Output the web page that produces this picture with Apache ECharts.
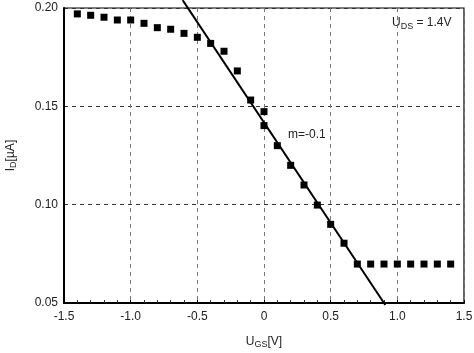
<!DOCTYPE html>
<html>
<head>
<meta charset="utf-8">
<script src="https://cdn.jsdelivr.net/npm/echarts@6/dist/echarts.min.js"></script>
<style>
  html, body { margin: 0; padding: 0; background: #fff; }
  #main { width: 474px; height: 353px; }
</style>
</head>
<body>
<div id="main"></div>
<script>
// measured points, U_GS [V] and I_D [uA]
const ugs = [-1.4, -1.3, -1.2, -1.1, -1.0, -0.9, -0.8, -0.7, -0.6, -0.5, -0.4, -0.3, -0.2, -0.1, 0, 0, 0.1, 0.2, 0.3, 0.4, 0.5, 0.6, 0.7, 0.8, 0.9, 1.0, 1.1, 1.2, 1.3, 1.4];
const id = [0.197, 0.1963, 0.1953, 0.1939, 0.1939, 0.1922, 0.190, 0.1892, 0.1871, 0.1851, 0.182, 0.178, 0.168, 0.1532, 0.1473, 0.1402, 0.130, 0.120, 0.110, 0.0998, 0.090, 0.0804, 0.0698, 0.0698, 0.0698, 0.0698, 0.0698, 0.0698, 0.0698, 0.0698];
// fitted line, slope m = -0.1
const fitX = [-0.61, 0.91];
const fitY = [0.204, 0.049];

const font = 'Liberation Sans, Arial, sans-serif';
const chart = echarts.init(document.getElementById('main'));

chart.setOption({
  animation: false,
  grid: {
    left: 64, right: 10, top: 8, bottom: 50,
    outerBoundsMode: 'none',
    show: true, borderColor: '#000', borderWidth: 1.2
  },
  xAxis: {
    type: 'value', min: -1.5, max: 1.5, interval: 0.5,
    name: '{m|U}{s|GS}{m|[V]}',
    nameLocation: 'middle', nameGap: 31,
    nameTextStyle: {
      rich: {
        m: { fontFamily: font, fontSize: 12, color: '#222' },
        s: { fontFamily: font, fontSize: 9, color: '#222', verticalAlign: 'bottom', padding: [6, 0, 0, 0] }
      }
    },
    axisLine: { onZero: false, lineStyle: { color: '#000', width: 2 } },
    axisTick: { inside: true, length: 3, lineStyle: { color: '#000' } },
    minorTick: { show: true, splitNumber: 5, length: 3, lineStyle: { color: '#333' } },
    axisLabel: {
      fontFamily: font, fontSize: 12, color: '#222', margin: 8,
      formatter: v => (v === 0 ? '0' : v.toFixed(1))
    },
    splitLine: { lineStyle: { color: '#777', type: [4, 4], width: 1 } }
  },
  yAxis: {
    type: 'value', min: 0.05, max: 0.20, interval: 0.05,
    name: '{m|I}{s|D}{m|[µA]}',
    nameLocation: 'middle', nameGap: 46, nameRotate: 90,
    nameTextStyle: {
      rich: {
        m: { fontFamily: font, fontSize: 12, color: '#222' },
        s: { fontFamily: font, fontSize: 9, color: '#222', padding: [6, 0, 0, 0] }
      }
    },
    axisLine: { onZero: false, lineStyle: { color: '#000', width: 2 } },
    axisTick: { show: false },
    axisLabel: {
      fontFamily: font, fontSize: 12, color: '#222', margin: 6,
      formatter: v => v.toFixed(2)
    },
    splitLine: { lineStyle: { color: '#333', type: [4, 4], width: 1 } }
  },
  series: [
    {
      type: 'scatter',
      symbol: 'rect', symbolSize: 7,
      itemStyle: { color: '#000', opacity: 1 },
      data: ugs.map((x, i) => [x, id[i]]),
      z: 3
    },
    {
      type: 'line',
      clip: false,
      symbol: 'none',
      lineStyle: { color: '#000', width: 2 },
      data: fitX.map((x, i) => [x, fitY[i]]),
      z: 4
    }
  ],
  graphic: [
    {
      type: 'text', left: 288, top: 129,
      style: { text: 'm=-0.1', fontFamily: font, fontSize: 12, fill: '#222' }
    },
    {
      type: 'text', left: 392, top: 17,
      style: {
        text: '{m|U}{s|DS}{m| = 1.4V}',
        rich: {
          m: { fontFamily: font, fontSize: 12, fill: '#222' },
          s: { fontFamily: font, fontSize: 9, fill: '#222', padding: [8, 0, 0, 0] }
        }
      }
    }
  ]
});
</script>
</body>
</html>
